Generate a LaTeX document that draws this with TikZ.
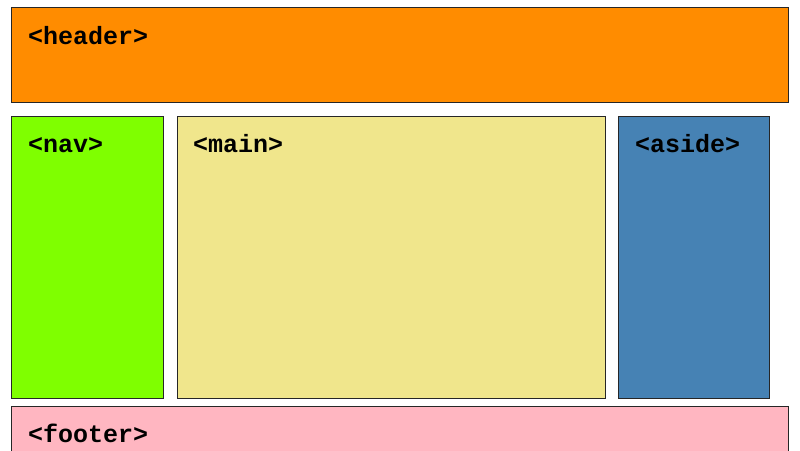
\documentclass[tikz,border=0pt]{standalone}
\usepackage{fontspec}
\setmonofont{Liberation Mono}
\usetikzlibrary{calc}

\begin{document}
\begin{tikzpicture}[x=1pt, y=1pt, line join=miter,
    region/.style={draw=black!85, line width=1pt, anchor=north west, inner sep=0pt},
    tag/.style={anchor=base west, inner sep=0pt, font=\fontsize{25}{30}\selectfont\ttfamily\bfseries}]

  % ===== Canvas =====
  \clip (0,0) rectangle (800,-450);
  \useasboundingbox (0,0) rectangle (800,-450);

  % ===== Parameters =====
  \def\padX{17}    % text inset from the left edge
  \def\padY{36.5}  % baseline below the top edge

  % ===== Regions =====
  \node[region, fill={rgb,255:red,255;green,140;blue,0}, minimum width=777pt, minimum height=95pt] (header) at (11,-7) {};
  \node[region, fill={rgb,255:red,127;green,255;blue,0}, minimum width=152pt, minimum height=282pt] (nav) at (11,-116) {};
  \node[region, fill={rgb,255:red,240;green,230;blue,140}, minimum width=428pt, minimum height=282pt] (main) at (177,-116) {};
  \node[region, fill={rgb,255:red,70;green,130;blue,180}, minimum width=151pt, minimum height=282pt] (aside) at (618,-116) {};
  \node[region, fill={rgb,255:red,255;green,182;blue,193}, minimum width=777pt, minimum height=100pt] (footer) at (11,-406) {};

  % ===== Tags =====
  \node[tag] (headertag) at ($(header.north west)+(\padX,-37.5)$) {<header>};
  \node[tag] (navtag)    at ($(nav.north west)+(\padX,-\padY)$) {<nav>};
  \node[tag] (maintag)   at ($(main.north west)+(\padX-1,-\padY)$) {<main>};
  \node[tag] (asidetag)  at ($(aside.north west)+(\padX,-\padY)$) {<aside>};
  \node[tag] (footertag) at ($(footer.north west)+(\padX,-\padY)$) {<footer>};

\end{tikzpicture}
\end{document}
